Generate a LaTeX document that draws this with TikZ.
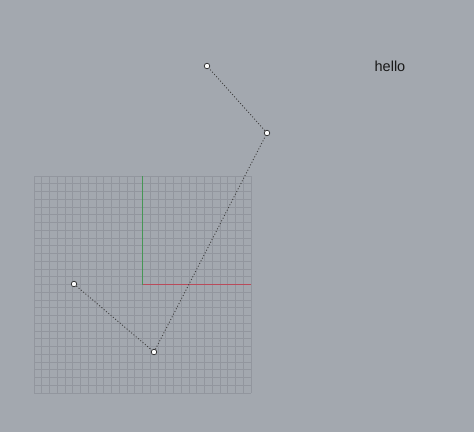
\documentclass[tikz,border=0pt]{standalone}
\usepackage{fontspec}
\setmainfont{Liberation Sans}
\usetikzlibrary{calc}
\definecolor{viewbg}{RGB}{163,168,175}
\definecolor{gridline}{RGB}{146,150,158}
\definecolor{axisx}{RGB}{185,75,90}
\definecolor{axisy}{RGB}{70,150,85}
\tikzset{
    cpoint/.style = {draw=black!85, fill=white, circle,
        inner sep=0pt, minimum size=5.5pt, line width=0.7pt},
    polyline/.style = {draw=black!75, line width=0.9pt,
        dash pattern=on 1pt off 2pt},
    gridrule/.style = {draw=gridline, line width=0.55pt},
    caption/.style = {font=\fontsize{14.5}{17}\selectfont, text=black!90}
}

\begin{document}
\begin{tikzpicture}[x=1pt, y=-1pt]
        \fill[viewbg] (0,0) rectangle (474,432);
        \useasboundingbox (0,0) rectangle (474,432);
        % grid
        \foreach \i in {0,1,...,28}{
            \draw[gridrule] ({34+7.75*\i},176) -- ++(0,217);
            \draw[gridrule] (34,{176+7.75*\i}) -- ++(217,0);
        }
        \coordinate (origin) at (142.5,284.5);
        \coordinate (xend) at (251,284.5);
        \coordinate (yend) at (142.5,176);
        \draw[axisx, line width=0.8pt] (origin) -- (xend);
        \draw[axisy, line width=0.8pt] (origin) -- (yend);
        % control points
        \node [cpoint] (p1) at (74,284) {};
        \node [cpoint] (p2) at (154,352) {};
        \node [cpoint] (p3) at (267,133) {};
        \node [cpoint] (p4) at (207,66) {};
        \draw[polyline] (p1) -- (p2) -- (p3) -- (p4);
        \node [caption] (hello) at (390,66) {hello};
\end{tikzpicture}
\end{document}
